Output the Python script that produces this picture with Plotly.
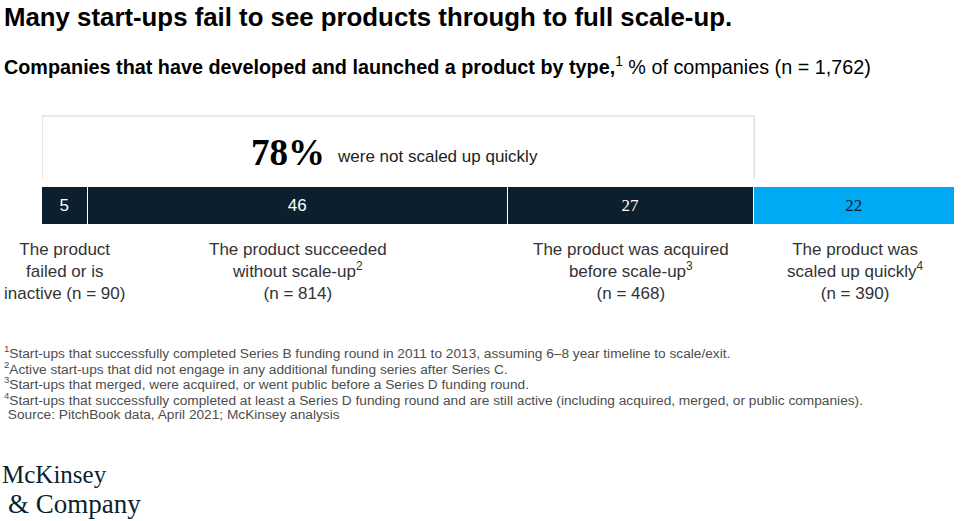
import plotly.graph_objects as go

# ---- data ----
categories = ["Failed or inactive", "Succeeded without scale-up", "Acquired before scale-up", "Scaled up quickly"]
shares = [5, 46, 27, 22]
counts = [90, 814, 468, 390]
bar_colors = ["#0b1f2e", "#0b1f2e", "#0b1f2e", "#00a9f4"]
text_colors = ["#ffffff", "#ffffff", "#ffffff", "#0b1f2e"]
text_fonts = ["Liberation Sans", "Liberation Sans", "Liberation Serif", "Liberation Serif"]
labels = [
    "The product<br>failed or is<br>inactive (n = 90)",
    "The product succeeded<br>without scale-up<sup>2</sup><br>(n = 814)",
    "The product was acquired<br>before scale-up<sup>3</sup><br>(n = 468)",
    "The product was<br>scaled up quickly<sup>4</sup><br>(n = 390)",
]
not_scaled_share = sum(shares[:3])
footnotes = [
    "<sup>1</sup>Start-ups that successfully completed Series B funding round in 2011 to 2013, assuming 6–8 year timeline to scale/exit.",
    "<sup>2</sup>Active start-ups that did not engage in any additional funding series after Series C.",
    "<sup>3</sup>Start-ups that merged, were acquired, or went public before a Series D funding round.",
    "<sup>4</sup>Start-ups that successfully completed at least a Series D funding round and are still active (including acquired, merged, or public companies).",
    " Source: PitchBook data, April 2021; McKinsey analysis",
]

W, H = 980, 521
SANS = "Liberation Sans, Arial, sans-serif"
SERIF = "Liberation Serif, Times New Roman, serif"

def py(p):
    return 1 - p / H

fig = go.Figure()
for i, (c, v) in enumerate(zip(categories, shares)):
    fig.add_trace(go.Bar(
        y=["all"], x=[v], orientation="h", name=c,
        marker=dict(color=bar_colors[i], line=dict(color="#ffffff", width=1.5)),
        text=[str(v)], textposition="inside", insidetextanchor="middle",
        textfont=dict(color=text_colors[i], family=text_fonts[i], size=17),
        constraintext="none", hoverinfo="skip", showlegend=False,
    ))

fig.update_layout(
    width=W, height=H, barmode="stack", bargap=0,
    margin=dict(l=0, r=0, t=0, b=0),
    paper_bgcolor="white", plot_bgcolor="white",
    xaxis=dict(domain=[42 / W, 955 / W], range=[0, sum(shares)], visible=False, fixedrange=True),
    yaxis=dict(domain=[py(225), py(187)], range=[-0.5, 0.5], visible=False, fixedrange=True),
)

# box above non-scaled segments
y0, y1 = py(178), py(116)
fig.add_shape(type="path", xref="x", yref="paper",
              path=f"M 0 {y0} L 0 {y1} L {not_scaled_share} {y1} L {not_scaled_share} {y0}",
              line=dict(color="#d6d6d6", width=1.2))

ann = []
ann.append(dict(x=327 / W, y=py(152), xref="paper", yref="paper", xanchor="right", yanchor="middle",
                text=f"<b>{not_scaled_share}%</b>", font=dict(family=SERIF, size=37, color="#000000"), showarrow=False))
ann.append(dict(x=335 / W, y=py(157), xref="paper", yref="paper", xanchor="left", yanchor="middle",
                text="were not scaled up quickly", font=dict(family=SANS, size=17, color="#222222"), showarrow=False))

# category labels under bar
start = 0
for v, lab in zip(shares, labels):
    ann.append(dict(x=start + v / 2, y=py(238), xref="x", yref="paper", xanchor="center", yanchor="top",
                    text=lab, font=dict(family=SANS, size=17, color="#333333"), showarrow=False))
    start += v

# title & subtitle
ann.append(dict(x=2 / W, y=py(17), xref="paper", yref="paper", xanchor="left", yanchor="middle",
                text="<b>Many start-ups fail to see products through to full scale-up.</b>",
                font=dict(family=SANS, size=25.8, color="#000000"), showarrow=False))
ann.append(dict(x=2 / W, y=py(66), xref="paper", yref="paper", xanchor="left", yanchor="middle",
                text="<b>Companies that have developed and launched a product by type,</b><sup>1</sup> % of companies (n = 1,762)",
                font=dict(family=SANS, size=19.8, color="#000000"), showarrow=False))

# footnotes
for i, f in enumerate(footnotes):
    ann.append(dict(x=2 / W, y=py(352 + i * 15.5), xref="paper", yref="paper", xanchor="left", yanchor="middle",
                    text=f, font=dict(family=SANS, size=13.7, color="#4d4d4d"), showarrow=False))

# logo
ann.append(dict(x=0, y=py(474), xref="paper", yref="paper", xanchor="left", yanchor="middle",
                text="McKinsey", font=dict(family=SERIF, size=25, color="#0b1f2e"), showarrow=False))
ann.append(dict(x=6 / W, y=py(504), xref="paper", yref="paper", xanchor="left", yanchor="middle",
                text="&amp; Company", font=dict(family=SERIF, size=27, color="#0b1f2e"), showarrow=False))

fig.update_layout(annotations=ann)
fig.write_html("out.html")
